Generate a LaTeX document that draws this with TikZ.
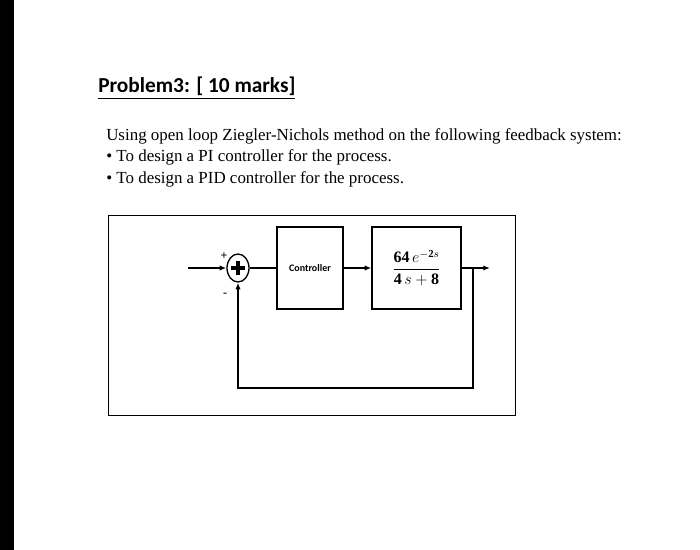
\documentclass[tikz,border=0pt]{standalone}
\usepackage{fontspec}
\setmainfont{Liberation Serif}
\newfontfamily\carl{Carlito}
\usetikzlibrary{arrows.meta,shapes.geometric}
\begin{document}
\begin{tikzpicture}[x=0.75pt,y=-0.75pt,
  wire/.style={line width=1pt},
  arr/.style={wire,-{Latex[length=5pt,width=4pt]}}]
\useasboundingbox (0,0) rectangle (700,550);
\fill[black] (0,0) rectangle (14,550);
\node[anchor=west,inner sep=0] (title) at (98,88) {\carl\bfseries\fontsize{16}{19}\selectfont\underline{Problem3: [ 10 marks]}};
\node[anchor=north west,inner sep=0,align=left,font=\fontsize{12.7}{16.2}\selectfont] (txt) at (106,128)
 {Using open loop Ziegler-Nichols method on the following feedback system:\\
  \textbullet\ To design a PI controller for the process.\\
  \textbullet\ To design a PID controller for the process.};
\draw[line width=0.6pt] (108,215) rectangle (515,415);
\node[draw,line width=1pt,ellipse,minimum width=16.5pt,minimum height=21pt,inner sep=0] (sum) at (238,268) {};
\fill (sum.center) ++(-1.6pt,-5pt) rectangle ++(3.2pt,10pt);
\fill (sum.center) ++(-5pt,-1.6pt) rectangle ++(10pt,3.2pt);
\node[draw,line width=1pt,minimum width=49.5pt,minimum height=61.5pt,inner sep=0] (ctrl) at (310,268) {\carl\fontsize{7.5}{9}\selectfont\bfseries Controller};
\node[draw,line width=1pt,minimum width=66.75pt,minimum height=61.5pt,inner sep=0] (plant) at (416.5,268)
 {\fontsize{12}{14}\selectfont$\displaystyle\frac{\mathbf{64}\,e^{-\mathbf{2}s}}{\mathbf{4}\,s+\mathbf{8}}$};
\coordinate (in) at (188,268);
\coordinate (tap) at (473,268);
\coordinate (out) at (490,268);
\coordinate (bot) at (473,388);
\coordinate (bl) at (238,388);
\draw[arr] (in) -- (sum.west);
\draw[wire] (sum.east) -- (ctrl.west);
\draw[arr] (ctrl.east) -- (plant.west);
\draw[arr] (plant.east) -- (out);
\draw[arr] (tap) -- (bot) -- (bl) -- (sum.south);
\node[font=\bfseries\small] (pl) at (224,256) {+};
\node[font=\bfseries\small] (mi) at (225,295) {-};
\end{tikzpicture}
\end{document}
